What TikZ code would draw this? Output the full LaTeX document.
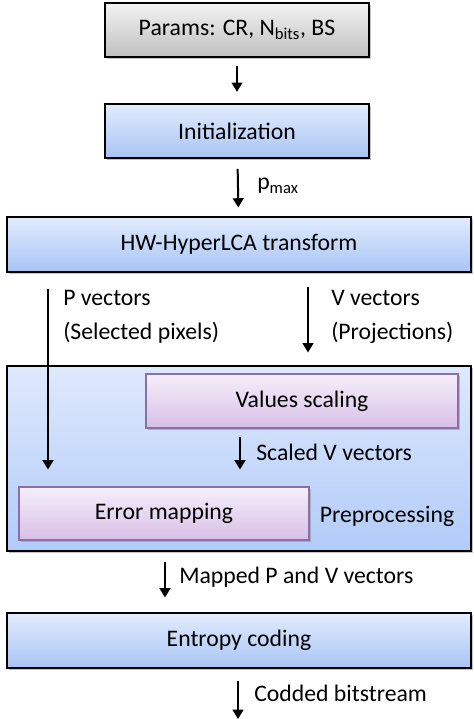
\documentclass[tikz,border=0pt]{standalone}
\usepackage{fontspec}
\setmainfont{Carlito}
\usetikzlibrary{arrows.meta,shadows}

\definecolor{grayTop}{HTML}{F3F3F3}
\definecolor{grayBot}{HTML}{BFBFBF}
\definecolor{blueTop}{HTML}{E2ECFD}
\definecolor{blueBot}{HTML}{A8C4F5}
\definecolor{lilaTop}{HTML}{F6EFFA}
\definecolor{lilaBot}{HTML}{D7BFE6}
\definecolor{lilaLine}{HTML}{8A70A8}
\definecolor{preTop}{HTML}{DEE9FD}
\definecolor{preBot}{HTML}{B2CBF8}

\begin{document}
\begin{tikzpicture}[x=0.75pt,y=-0.75pt,
  font=\fontsize{17.8}{25.5}\selectfont,
  block/.style={draw=black,line width=1.2pt,minimum height=40.5pt,
    drop shadow={shadow xshift=1.2pt,shadow yshift=-1.2pt,fill=black!45}},
  bluebox/.style={block,top color=blueTop,bottom color=blueBot},
  lilabox/.style={block,draw=lilaLine,top color=lilaTop,bottom color=lilaBot},
  flow/.style={line width=1.5pt,-{Triangle[width=8pt,length=7pt]}},
  lbl/.style={anchor=west,inner sep=0pt,align=left}]
\useasboundingbox (0,0) rectangle (474,719);

\node[block,top color=grayTop,bottom color=grayBot,minimum width=198pt]
  (params) at (237,30) {Params: CR, N\textsubscript{bits}, BS};
\node[bluebox,minimum width=198pt] (init) at (237,131) {Initialization};
\node[bluebox,minimum width=348pt,minimum height=41.25pt]
  (hw) at (239,244.5) {HW-HyperLCA transform};

% preprocessing group
\node[bluebox,top color=preTop,bottom color=preBot,
  minimum width=348pt,minimum height=138.75pt] (pre) at (239,458.5) {};
\node[lilabox,minimum width=234pt] (scale) at (302,401) {Values scaling};
\node[lilabox,minimum width=217.5pt,minimum height=39.75pt]
  (err) at (164,513.5) {Error mapping};
\node (prelbl) at (387,516) {Preprocessing};

\node[bluebox,minimum width=348pt,minimum height=41.25pt]
  (ent) at (239,640.5) {Entropy coding};

\coordinate (pcol) at (48,0);
\coordinate (vcol) at (308,0);
\coordinate (scol) at (240,0);
\coordinate (mcol) at (165,0);
\coordinate (out) at (238,719);

\draw[flow,shorten <=6pt,shorten >=8.5pt] (params) -- (init);
\draw[flow,shorten <=7.5pt,shorten >=6.5pt] (init) -- (hw);
\draw[flow,shorten <=12.5pt,shorten >=12.5pt] (hw.south -| pcol) -- (err.north -| pcol);
\draw[flow,shorten <=11pt,shorten >=9.5pt] (hw.south -| vcol) -- (pre.north -| vcol);
\draw[flow,shorten <=6.5pt,shorten >=12.5pt] (scale.south -| scol) -- (err.north -| scol);
\draw[flow,shorten <=8pt,shorten >=11pt] (pre.south -| mcol) -- (ent.north -| mcol);
\draw[flow,shorten <=9pt] (ent.south -| out) -- (out);

\node[lbl] (pmax) at (257,186) {p\textsubscript{max}};
\node[lbl] (plbl) at (63,317) {P vectors\\(Selected pixels)};
\node[lbl] (vlbl) at (331,317) {V vectors\\(Projections)};
\node[lbl] (slbl) at (256,452) {Scaled V vectors};
\node[lbl] (mlbl) at (179,577) {Mapped P and V vectors};
\node[lbl] (clbl) at (254,693) {Codded bitstream};
\end{tikzpicture}
\end{document}
